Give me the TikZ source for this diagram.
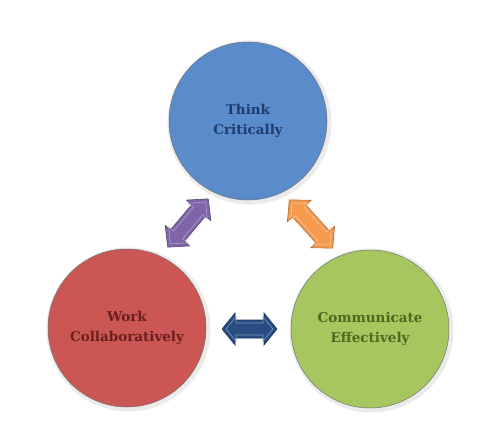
\documentclass[tikz,border=0pt]{standalone}
\usepackage{fontspec}
\setmainfont{DejaVu Serif}
\usetikzlibrary{calc}
\definecolor{cblue}{HTML}{5A8BCB}
\definecolor{cred}{HTML}{CB5654}
\definecolor{cgreen}{HTML}{A6C660}
\definecolor{tblue}{HTML}{1F3C6B}
\definecolor{tred}{HTML}{6A1F1D}
\definecolor{tgreen}{HTML}{4B6920}
\definecolor{apurple}{HTML}{8064A8}
\definecolor{aorange}{HTML}{F59A4E}
\definecolor{anavy}{HTML}{274C84}
\tikzset{
  bubble/.style={circle, minimum size=158pt, inner sep=0pt, align=center,
     font=\bfseries\fontsize{13.5}{19.5}\selectfont, draw=black!55, line width=0.5pt},
  halo/.style={circle, minimum size=164pt, inner sep=0pt, fill=black!8, draw=none},
}
\newcommand\blockdarrow[7]{%
  % #1 center, #2 angle, #3 length, #4 full width, #5 shaft width, #6 head length, #7 colour
  \begin{scope}[shift={(#1)}, rotate=#2]
    \path[fill=#7, draw=#7!70!black, line width=0.6pt, line join=miter]
      (-#3/2,0) -- (-#3/2+#6,#4/2) -- (-#3/2+#6,#5/2) -- (#3/2-#6,#5/2) -- (#3/2-#6,#4/2)
      -- (#3/2,0) -- (#3/2-#6,-#4/2) -- (#3/2-#6,-#5/2) -- (-#3/2+#6,-#5/2) -- (-#3/2+#6,-#4/2) -- cycle;
    \path[draw=#7!60!white, line width=0.6pt]
      (-#3/2+4,0) -- (-#3/2+#6+1,#4/2-4) -- (-#3/2+#6+1,#5/2-3) -- (#3/2-#6-1,#5/2-3) -- (#3/2-#6-1,#4/2-4)
      -- (#3/2-4,0) -- (#3/2-#6-1,-#4/2+4) -- (#3/2-#6-1,-#5/2+3) -- (-#3/2+#6+1,-#5/2+3) -- (-#3/2+#6+1,-#4/2+4) -- cycle;
  \end{scope}}
\begin{document}
\begin{tikzpicture}[x=1pt,y=-1pt]
\useasboundingbox[fill=white] (0,0) rectangle (497,431);
% halos
\node[halo] (hT) at (249.5,122.5) {};
\node[halo] (hL) at (128.5,329.5) {};
\node[halo] (hR) at (371.5,330.5) {};
% circles
\node[bubble, fill=cblue, text=tblue] (T) at (248,121) {Think\\Critically};
\node[bubble, fill=cred, text=tred] (L) at (127,328) {Work\\Collaboratively};
\node[bubble, fill=cgreen, text=tgreen] (R) at (370,329) {Communicate\\Effectively};
% arrows between circles
\coordinate (aLT) at (188,223);
\coordinate (aTR) at (311,224);
\coordinate (aLR) at (249.5,329);
\blockdarrow{aLT}{50}{63}{32}{18}{15}{apurple}
\blockdarrow{aTR}{-48}{65}{32}{18}{15}{aorange}
\blockdarrow{aLR}{0}{55}{32}{18}{13}{anavy}
\end{tikzpicture}
\end{document}
